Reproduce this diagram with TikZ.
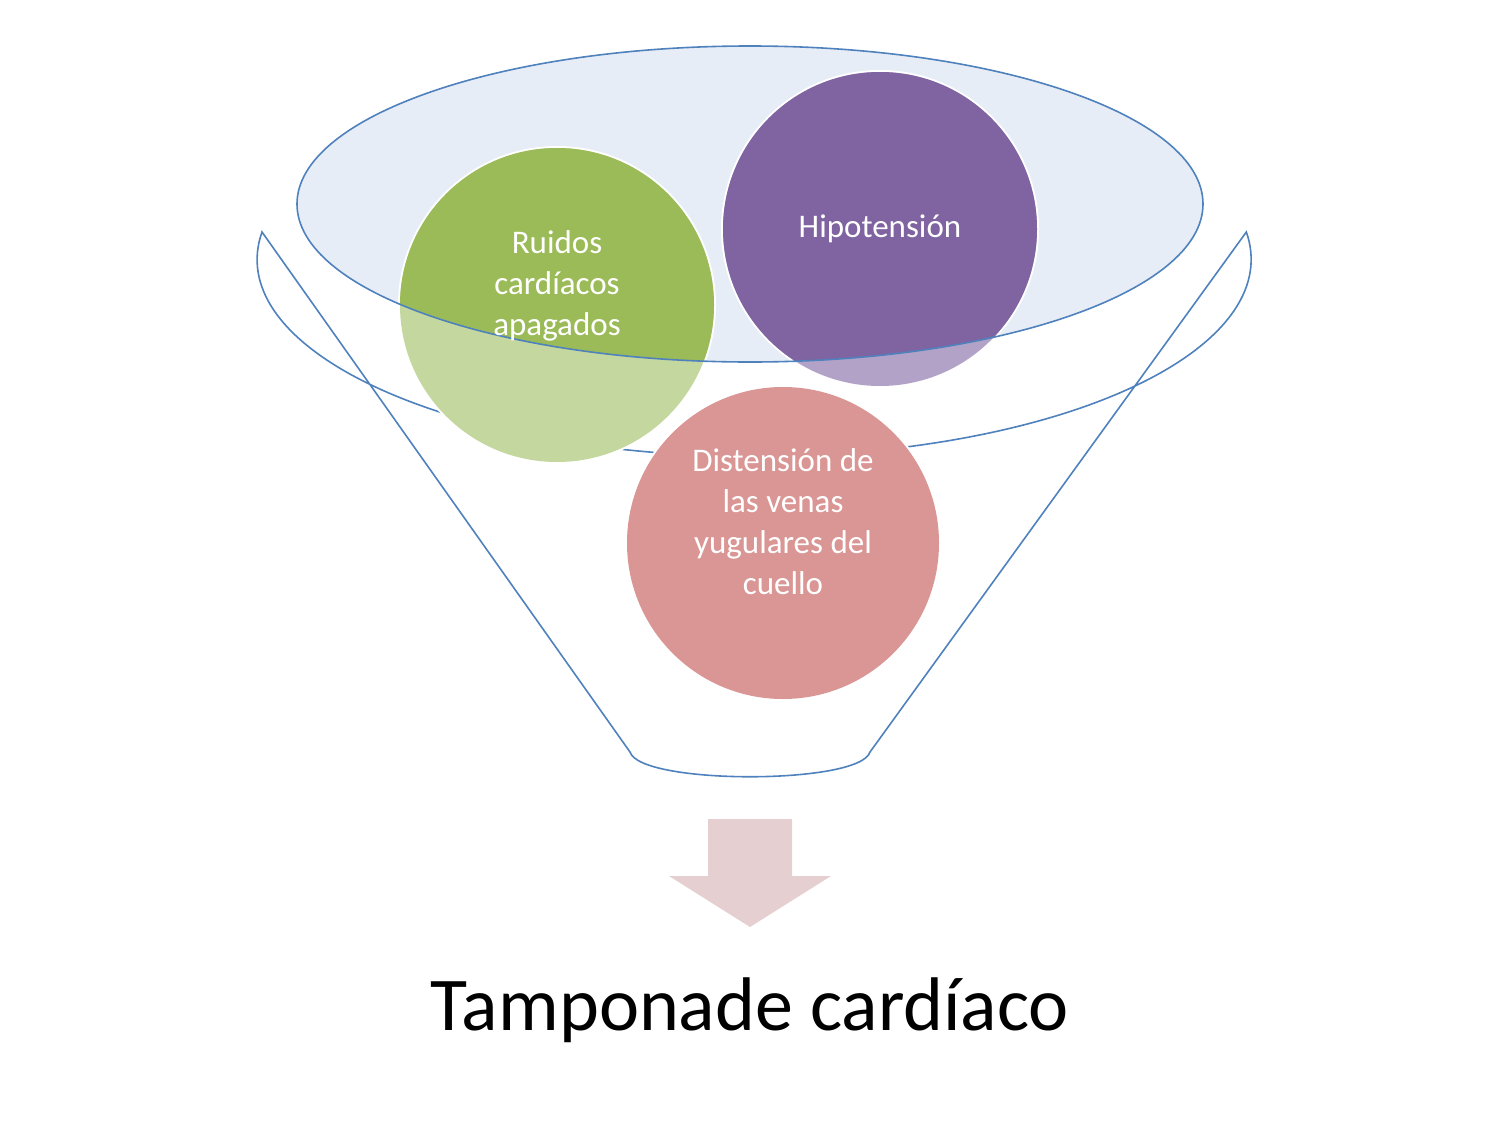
\documentclass[tikz,border=0pt]{standalone}
\usepackage{fontspec}
\setmainfont{Carlito}
\begin{document}
\begin{tikzpicture}[x=0.5pt,y=-0.5pt,
  ctext/.style={text=white,font=\fontsize{16.5}{20.5}\selectfont,align=center},
  edge/.style={draw=blue!45!black!60!cyan!40!blue,line width=0.7pt}]
\definecolor{fb}{HTML}{4F81BD}
\useasboundingbox (0,0) rectangle (1500,1125);
% funnel outline
\draw[draw=fb,line width=0.8pt] (630,752) -- (262,232) arc[start angle=188,end angle=-8,x radius=497,y radius=197]
  -- (870,752) .. controls (860,785) and (640,785) .. (630,752) -- cycle;
% inner ellipse fill
\fill[fill=fb!14] (750,204) ellipse[x radius=453,y radius=158];
% circles light
\fill[fill=white] (557,305) circle[radius=159];
\fill[fill=white] (880,229) circle[radius=159];
\fill[fill=white] (783,543) circle[radius=158];
\fill[fill={rgb,255:red,196;green,215;blue,158}] (557,305) circle[radius=157];
\fill[fill={rgb,255:red,179;green,162;blue,199}] (880,229) circle[radius=157];
\fill[fill={rgb,255:red,217;green,150;blue,148}] (783,543) circle[radius=156];
\begin{scope}
\clip (750,204) ellipse[x radius=453,y radius=158];
\fill[fill={rgb,255:red,155;green,187;blue,89}] (557,305) circle[radius=157];
\fill[fill={rgb,255:red,128;green,100;blue,162}] (880,229) circle[radius=157];
\end{scope}
\draw[draw=fb,line width=0.8pt] (750,204) ellipse[x radius=453,y radius=158];
\node[ctext] (a) at (557,286) {Ruidos\\cardíacos\\apagados};
\node[ctext] (b) at (880,229) {Hipotensión};
\node[ctext] (c) at (783,522) {Distensión de\\las venas\\yugulares del\\cuello};
% arrow
\fill[fill={rgb,255:red,230;green,207;blue,208}] (708,819) -- (792,819) -- (792,876) -- (831,876) -- (750,927) -- (669,876) -- (708,876) -- cycle;
\node[font=\fontsize{38}{44}\selectfont] (t) at (750,1010) {Tamponade cardíaco};
\end{tikzpicture}
\end{document}
